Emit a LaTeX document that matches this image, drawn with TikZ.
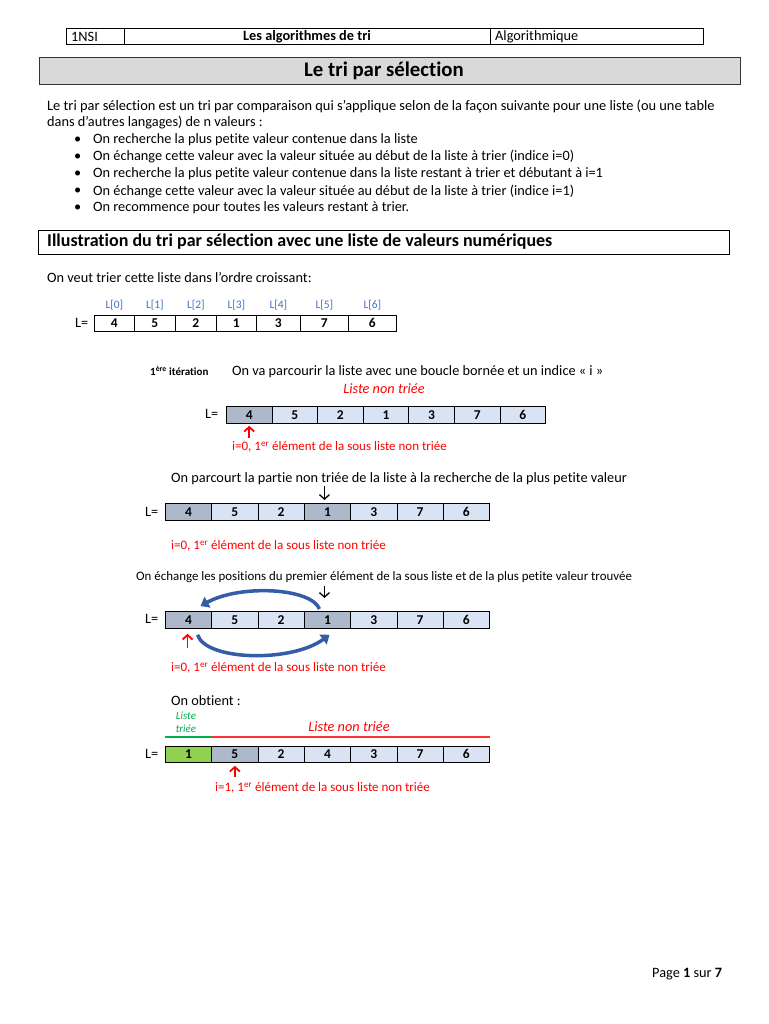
\documentclass[tikz,border=0pt]{standalone}
\usepackage{fontspec}
\setmainfont{Carlito}[Ligatures={NoCommon}]
\usetikzlibrary{arrows.meta}
\definecolor{lblue}{RGB}{68,114,196}
\definecolor{cdark}{RGB}{173,185,202}
\definecolor{clight}{RGB}{218,227,243}
\definecolor{cgreen}{RGB}{146,208,80}
\definecolor{tgreen}{RGB}{0,176,80}
\definecolor{titlegray}{RGB}{217,217,217}
\definecolor{swapblue}{RGB}{52,92,168}
\newcommand\setfs[1]{\fontsize{#1}{#1}\selectfont}
\begin{document}
\begin{tikzpicture}[x=1pt,y=-1pt,
  txt/.style={inner sep=0pt, anchor=west, font=\setfs{14.3}},
  small/.style={inner sep=0pt, anchor=west, font=\setfs{12.9}},
  redtxt/.style={inner sep=0pt, anchor=west, font=\setfs{13}, text=red},
  lbl/.style={inner sep=0pt, font=\setfs{11.5}, text=lblue},
  cell/.style={draw=black, line width=0.8pt, inner sep=0pt, anchor=north west, font=\bfseries\setfs{13.5}},
  lbox/.style={draw=black, line width=0.8pt, inner sep=0pt, anchor=north west},
  redarrow/.style={draw=red, line width=1.8pt, -{Straight Barb[length=4.5pt,width=10pt]}},
  blkarrow/.style={draw=black, line width=1.3pt, -{Straight Barb[length=4.5pt,width=10pt]}},
  swap/.style={draw=swapblue, line width=3.5pt, -{Triangle[length=8pt,width=12pt]}},
]
\useasboundingbox[fill=white] (0,0) rectangle (768,1024);

% header
\node[lbox, minimum width=58, minimum height=16] (h1) at (66,28) {};
\node[lbox, minimum width=366, minimum height=16] (h2) at (124,28) {};
\node[lbox, minimum width=213, minimum height=16] (h3) at (490,28) {};
\node[txt] (h1t) at (71,36.5) {1NSI};
\node[inner sep=0pt, font=\bfseries\setfs{14.3}] (h2t) at (307,36.5) {Les algorithmes de tri};
\node[txt] (h3t) at (495,36.5) {Algorithmique};

% title
\node[draw=black!80, line width=1pt, fill=titlegray, minimum width=701, minimum height=27, anchor=north west, inner sep=0pt] (title) at (39,57) {};
\node[inner sep=0pt, font=\bfseries\setfs{20.8}] (titletxt) at (384,70.5) {Le tri par sélection};

% paragraph
\node[txt, font=\setfs{14.4}] (p1) at (47,106) {Le tri par sélection est un tri par comparaison qui s’applique selon de la façon suivante pour une liste (ou une table};
\node[txt] (p2) at (47,123) {dans d’autres langages) de n valeurs :};
\foreach \yy/\tt [count=\i] in {140/{On recherche la plus petite valeur contenue dans la liste},
  157/{On échange cette valeur avec la valeur située au début de la liste à trier (indice i=0)},
  174/{On recherche la plus petite valeur contenue dans la liste restant à trier et débutant à i=1},
  191/{On échange cette valeur avec la valeur située au début de la liste à trier (indice i=1)},
  208/{On recommence pour toutes les valeurs restant à trier.}}{
  \node[txt] (bul\i) at (74,\yy) {•};
  \node[txt] (bt\i) at (93,\yy) {\tt};
}

% heading 2
\node[lbox, minimum width=691, minimum height=24] (sec) at (38,230) {};
\node[txt, font=\bfseries\setfs{18}] (sect) at (47,242) {Illustration du tri par sélection avec une liste de valeurs numériques};

\node[txt] (q1) at (47,278) {On veut trier cette liste dans l’ordre croissant:};

% table 1
\node[txt] (L1) at (75,323) {L=};
\foreach \v/\xa/\xb [count=\i from 0] in {4/94/134,5/134/175,2/175/216,1/216/256,3/256/300,7/300/348,6/348/396}{
  \node[cell, minimum width={\xb-\xa}, minimum height=16] (a\i) at (\xa,315) {\v};
  \node[lbl] (la\i) at ([yshift=10pt]a\i.north) {L[\i]};
}

% iteration 1
\node[txt, font=\bfseries\setfs{11}] (it1) at (150,371) {1\textsuperscript{ère} itération};
\node[txt] (q2) at (232,372) {On va parcourir la liste avec une boucle bornée et un indice « i »};
\node[inner sep=0pt, font=\itshape\setfs{14.3}, text=red] (lnt1) at (384,389) {Liste non triée};

\node[txt] (L2) at (205,414) {L=};
\foreach \v/\f [count=\i from 0] in {4/cdark,5/clight,2/clight,1/clight,3/clight,7/clight,6/clight}{
  \node[cell, fill=\f, minimum width=45.6, minimum height=17] (b\i) at ({226+45.6*\i},406) {\v};
}
\draw[redarrow] ([yshift=-14pt]b0.south) -- ([yshift=-2pt]b0.south);
\node[redtxt] (r1) at (232,447) {i=0, 1\textsuperscript{er} élément de la sous liste non triée};

% step 2
\node[txt] (q3) at (171,479) {On parcourt la partie non triée de la liste à la recherche de la plus petite valeur};
\node[txt] (L3) at (145,512) {L=};
\foreach \v/\f [count=\i from 0] in {4/cdark,5/clight,2/clight,1/cdark,3/clight,7/clight,6/clight}{
  \node[cell, fill=\f, minimum width=46.3, minimum height=17] (c\i) at ({165+46.3*\i},503) {\v};
}
\draw[blkarrow] ([xshift=-3pt,yshift=17pt]c3.north) -- ([xshift=-3pt,yshift=3pt]c3.north);
\node[redtxt] (r2) at (171,546) {i=0, 1\textsuperscript{er} élément de la sous liste non triée};

% step 3
\node[small] (q4) at (136,577) {On échange les positions du premier élément de la sous liste et de la plus petite valeur trouvée};
\node[txt] (L4) at (145,619) {L=};
\foreach \v/\f [count=\i from 0] in {4/cdark,5/clight,2/clight,1/cdark,3/clight,7/clight,6/clight}{
  \node[cell, fill=\f, minimum width=46.3, minimum height=17] (d\i) at ({165+46.3*\i},611) {\v};
}
\draw[blkarrow] ([xshift=-3pt,yshift=25pt]d3.north) -- ([xshift=-3pt,yshift=13pt]d3.north);
\draw[swap] ([xshift=-8pt,yshift=2pt]d3.north) .. controls +(-8,-21) and +(40,-22) .. ([xshift=12pt,yshift=5pt]d0.north);
\draw[swap] ([xshift=9pt,yshift=-6pt]d0.south) .. controls +(8,26) and +(-38,28) .. ([xshift=2pt,yshift=-6pt]d3.south);
\draw[redarrow] ([xshift=-1pt,yshift=-19pt]d0.south) -- ([xshift=-1pt,yshift=-5pt]d0.south);
\node[redtxt] (r3) at (171,668) {i=0, 1\textsuperscript{er} élément de la sous liste non triée};

% result
\node[txt] (q5) at (171,701) {On obtient :};
\node[inner sep=0pt, font=\itshape\fontsize{11}{13}\selectfont, text=tgreen, align=center] (lt) at (186,722.5) {Liste\\triée};
\node[inner sep=0pt, font=\itshape\setfs{14.3}, text=red] (lnt2) at (349,727) {Liste non triée};
\node[txt] (L5) at (145,754) {L=};
\foreach \v/\f [count=\i from 0] in {1/cgreen,5/cdark,2/clight,4/clight,3/clight,7/clight,6/clight}{
  \node[cell, fill=\f, minimum width=46.3, minimum height=16] (e\i) at ({165+46.3*\i},746) {\v};
}
\draw[draw=tgreen, line width=1.6pt] ([yshift=9pt]e0.north west) -- ([yshift=9pt]e0.north east);
\draw[draw=red!80!white, line width=1.6pt] ([yshift=9pt]e1.north west) -- ([yshift=9pt]e6.north east);
\draw[redarrow] ([yshift=-14pt]e1.south) -- ([yshift=-3pt]e1.south);
\node[redtxt] (r4) at (215,788) {i=1, 1\textsuperscript{er} élément de la sous liste non triée};

% footer
\node[txt] (foot) at (652,974) {Page \textbf{1} sur \textbf{7}};
\end{tikzpicture}
\end{document}
